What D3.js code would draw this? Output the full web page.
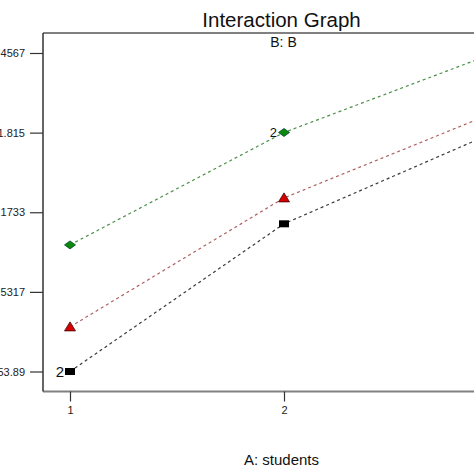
<!DOCTYPE html>
<html><head><meta charset="utf-8">
<script src="https://cdn.jsdelivr.net/npm/d3@7"></script>
<style>html,body{margin:0;padding:0;background:#fff;}svg{display:block;font-family:"Liberation Sans",Arial,sans-serif;}</style>
</head><body>
<svg id="c" width="474" height="474"></svg>
<script>
const categories = [1, 2, 3];
const xTickLabels = ["1", "2", "3"];
const yTickValues = [53.89, 56.5317, 59.1733, 61.815, 64.4567];
const yTickLabels = ["53.89", "56.5317", "59.1733", "61.815", "64.4567"];
const seriesGreen = [58.09, 61.82, 64.50];
const seriesRed = [55.37, 59.65, 62.53];
const seriesBlack = [53.89, 58.79, 61.88];

const svg = d3.select("#c");
const plotLeft = 43, plotTop = 33, plotBottom = 391.5, plotRight = 525;
const x = d3.scaleLinear().domain([1, 3]).range([70, 498]);
const y = d3.scaleLinear().domain([53.89, 64.4567]).range([371.5, 53]);

// frame: top and bottom gray
svg.append("line").attr("x1", plotLeft).attr("x2", plotRight).attr("y1", plotTop).attr("y2", plotTop)
  .attr("stroke", "#808080").attr("stroke-width", 2);
svg.append("line").attr("x1", plotLeft).attr("x2", plotRight).attr("y1", plotBottom).attr("y2", plotBottom)
  .attr("stroke", "#808080").attr("stroke-width", 2);

// y axis
const yAxis = d3.axisLeft(y).tickValues(yTickValues).tickFormat((d, i) => yTickLabels[i]).tickSize(13).tickPadding(5);
const gy = svg.append("g").attr("transform", `translate(${plotLeft},0)`).call(yAxis);
gy.select(".domain").remove();
gy.selectAll(".tick line").attr("stroke", "#333").attr("stroke-width", 1.2);
gy.selectAll(".tick text").attr("font-size", 11).attr("fill", "#222").attr("font-family", "Liberation Sans, Arial, sans-serif");
svg.append("line").attr("x1", plotLeft).attr("x2", plotLeft).attr("y1", plotTop).attr("y2", plotBottom)
  .attr("stroke", "#333").attr("stroke-width", 1.5);

// x axis
const xAxis = d3.axisBottom(x).tickValues(categories).tickFormat((d, i) => xTickLabels[i]).tickSize(10).tickPadding(5);
const gx = svg.append("g").attr("transform", `translate(0,${plotBottom})`).call(xAxis);
gx.select(".domain").remove();
gx.selectAll(".tick line").attr("stroke", "#333").attr("stroke-width", 1.2);
gx.selectAll(".tick text").attr("font-size", 11).attr("fill", "#222").attr("font-family", "Liberation Sans, Arial, sans-serif");

// titles
svg.append("text").attr("x", 281.5).attr("y", 27).attr("text-anchor", "middle")
  .attr("font-size", 20.5).attr("fill", "#111").text("Interaction Graph");
svg.append("text").attr("x", 283.5).attr("y", 46.5).attr("text-anchor", "middle")
  .attr("font-size", 14).attr("fill", "#111").text("B: B");
svg.append("text").attr("x", 281.5).attr("y", 465).attr("text-anchor", "middle")
  .attr("font-size", 15).attr("fill", "#111").text("A: students");

const line = d3.line().x((d, i) => x(categories[i])).y(d => y(d));
const series = [
  {v: seriesBlack, c: "#3a3a3a"},
  {v: seriesRed, c: "#b06060"},
  {v: seriesGreen, c: "#4a904a"}
];
series.forEach(s => {
  svg.append("path").attr("d", line(s.v)).attr("fill", "none")
    .attr("stroke", s.c).attr("stroke-width", 1.2).attr("stroke-dasharray", "3,3");
});

const pts = [0, 1];
// black squares
svg.selectAll(".sq").data(pts).enter().append("rect")
  .attr("x", i => x(categories[i]) - 5).attr("y", i => y(seriesBlack[i]) - 3.5)
  .attr("width", 10).attr("height", 7).attr("fill", "#000");
// red triangles
svg.selectAll(".tri").data(pts).enter().append("path")
  .attr("d", i => { const cx = x(categories[i]), cy = y(seriesRed[i]);
    return `M${cx},${cy-5} L${cx+5.5},${cy+4} L${cx-5.5},${cy+4} Z`; })
  .attr("fill", "#d40000").attr("stroke", "#400").attr("stroke-width", 0.8);
// green diamonds
svg.selectAll(".dia").data(pts).enter().append("path")
  .attr("d", i => { const cx = x(categories[i]), cy = y(seriesGreen[i]);
    return `M${cx-5.5},${cy} L${cx},${cy-4} L${cx+5.5},${cy} L${cx},${cy+4} Z`; })
  .attr("fill", "#0a8a0a").attr("stroke", "#043").attr("stroke-width", 0.8);

// "2" labels
svg.append("text").attr("x", x(categories[1]) - 7).attr("y", y(seriesGreen[1]) + 4.5)
  .attr("text-anchor", "end").attr("font-size", 13).attr("fill", "#111").text("2");
svg.append("text").attr("x", x(categories[0]) - 6).attr("y", y(seriesBlack[0]) + 5)
  .attr("text-anchor", "end").attr("font-size", 15).attr("fill", "#111").text("2");
</script>
</body></html>
